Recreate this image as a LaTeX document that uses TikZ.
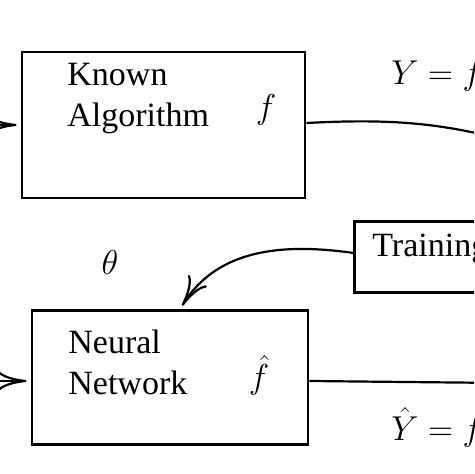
\documentclass[tikz,border=0pt]{standalone}
\usepackage{fontspec}
\setmainfont{Liberation Serif}
\usetikzlibrary{arrows.meta}

\begin{document}
\begin{tikzpicture}[x=0.5pt,y=-0.5pt,
  every node/.style={font=\fontsize{17}{20.5}\selectfont},
  block/.style={draw,line width=1.4pt,inner sep=0pt},
  flow/.style={line width=1.1pt,-{To[length=15pt,width=11pt]}}]
\useasboundingbox (0,0) rectangle (474,474);
\clip (0,0) rectangle (474,474);

% boxes
\node[block,minimum width=141.5pt,minimum height=73pt] (alg) at (163.5,125) {};
\node[block,minimum width=138pt,minimum height=67pt] (nn) at (170,377.5) {};
\node[block,minimum width=120pt,minimum height=35.5pt,anchor=north west] (train) at (353,220) {};

% texts
\node[anchor=north west,align=left,inner sep=0pt] (algtext) at (67,63.3) {Known\\Algorithm};
\node (f) at (266,110) {$f$};
\node[anchor=north west,align=left,inner sep=0pt] (nntext) at (68,330) {Neural\\Network};
\node (fhat) at (259,375) {$\hat{f}$};
\node[anchor=base west,inner sep=0pt] (traintext) at (372,257) {Training};
\node (theta) at (110,263) {$\theta$};
\node[anchor=base west,inner sep=0pt] (ylabel) at (391,85) {$Y = f$};
\node[anchor=base west,inner sep=0pt] (yhatlabel) at (391,440) {$\hat{Y} = f$};

% connectors
\coordinate (algin) at (-60,125);
\coordinate (nnin) at (-60,381);
\coordinate (yout) at (540,150);
\coordinate (yhatout) at (600,384);

\draw[flow,shorten >=2pt] (algin) -- (algin -| alg.west);
\draw[flow,shorten >=2pt] (nnin) -- (nnin -| nn.west);
\draw[line width=1.1pt] ([yshift=1pt]alg.east) to[out=3,in=163] (yout);
\draw[line width=1.1pt] ([yshift=-1.75pt]nn.east) -- (yhatout);
\draw[flow,shorten >=2pt] ([yshift=2pt]train.west) to[out=172,in=58] ([xshift=5pt]nn.north);
\end{tikzpicture}
\end{document}
